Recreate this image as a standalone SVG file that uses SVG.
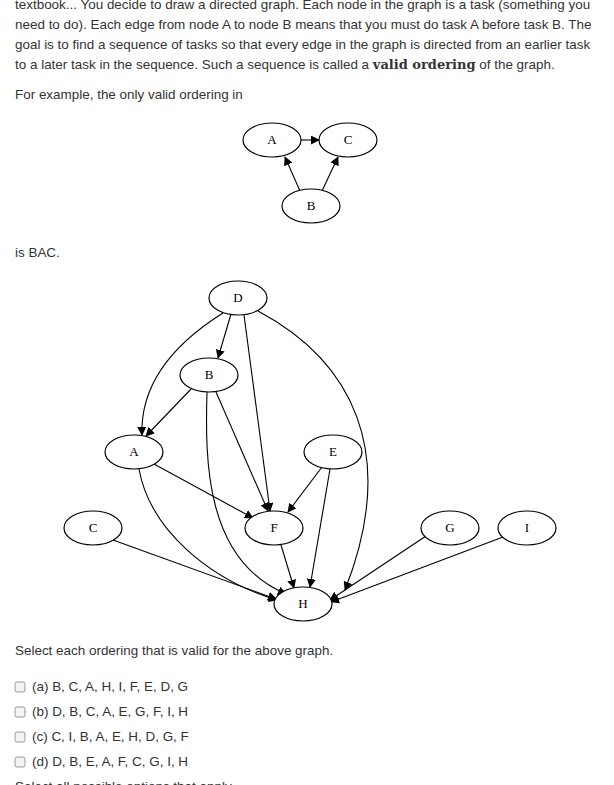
<svg xmlns="http://www.w3.org/2000/svg" width="614" height="785" viewBox="0 0 614 785">
<style>
.t{font-family:"Liberation Sans",Arial,sans-serif;font-size:13.45px;fill:#333}
.n ellipse{fill:#fff;stroke:#000;stroke-width:1.2}
.n text{font-family:"Liberation Serif","Times New Roman",serif;font-size:13px;text-anchor:middle;fill:#000}
.e path{fill:none;stroke:#000;stroke-width:1.1;marker-end:url(#ar)}
.cb{fill:#f4f4f4;stroke:#999}
</style>
<defs><marker id="ar" viewBox="0 0 10 10" refX="9" refY="5" markerWidth="9" markerHeight="9" markerUnits="userSpaceOnUse" orient="auto"><path d="M0,0L10,5L0,10z" fill="#000"/></marker></defs>
<rect width="614" height="785" fill="#fff"/>
<text class="t" x="15" y="9">textbook... You decide to draw a directed graph. Each node in the graph is a task (something you</text>
<text class="t" x="15" y="29">need to do). Each edge from node A to node B means that you must do task A before task B. The</text>
<text class="t" x="15" y="49">goal is to find a sequence of tasks so that every edge in the graph is directed from an earlier task</text>
<text class="t" x="15" y="69">to a later task in the sequence. Such a sequence is called a <tspan font-family="'DejaVu Serif',serif" font-weight="bold" font-size="13">valid ordering</tspan> of the graph.</text>
<text class="t" x="15" y="99">For example, the only valid ordering in</text>
<text class="t" x="15" y="257">is BAC.</text>
<g class="e" id="edges1">
<path d="M301,140L319,140"/>
<path d="M300,191L285,157"/>
<path d="M322,191L338,157"/>
</g>
<g class="n" id="n1A"><ellipse cx="272" cy="140" rx="29" ry="17"/><text x="272" y="144">A</text></g>
<g class="n" id="n1C"><ellipse cx="348" cy="140" rx="29" ry="17"/><text x="348" y="144">C</text></g>
<g class="n" id="n1B"><ellipse cx="311" cy="206" rx="29" ry="17"/><text x="311" y="210">B</text></g>
<g class="e" id="edges2">
<path d="M231,314L218,358"/>
<path d="M223,313C180,340 140,380 142,435"/>
<path d="M244,315L270,511"/>
<path d="M258,311C350,360 400,450 345,590"/>
<path d="M192,388L146,436"/>
<path d="M216,392L268,511"/>
<path d="M207,392C205,460 205,560 286,594"/>
<path d="M154,464L253,518"/>
<path d="M139,469C150,530 210,580 277,600"/>
<path d="M322,467L288,512"/>
<path d="M330,469L310,587"/>
<path d="M113,540L276,599"/>
<path d="M426,536L330,600"/>
<path d="M503,537L331,602"/>
<path d="M281,545L294,588"/>
</g>
<g class="n" id="D"><ellipse cx="238" cy="298" rx="29" ry="17"/><text x="238" y="302">D</text></g>
<g class="n" id="B"><ellipse cx="209" cy="375" rx="29" ry="17"/><text x="209" y="379">B</text></g>
<g class="n" id="A"><ellipse cx="134" cy="452" rx="29" ry="17"/><text x="134" y="456">A</text></g>
<g class="n" id="E"><ellipse cx="333" cy="452" rx="29" ry="17"/><text x="333" y="456">E</text></g>
<g class="n" id="C"><ellipse cx="93" cy="528" rx="29" ry="17"/><text x="93" y="532">C</text></g>
<g class="n" id="F"><ellipse cx="274" cy="528" rx="29" ry="17"/><text x="274" y="532">F</text></g>
<g class="n" id="G"><ellipse cx="450" cy="528" rx="29" ry="17"/><text x="450" y="532">G</text></g>
<g class="n" id="I"><ellipse cx="527" cy="528" rx="29" ry="17"/><text x="527" y="532">I</text></g>
<g class="n" id="H"><ellipse cx="303" cy="604" rx="29" ry="17"/><text x="303" y="608">H</text></g>
<text class="t" x="15" y="655">Select each ordering that is valid for the above graph.</text>
<rect class="cb" x="15" y="682" width="10" height="10" rx="2"/><text class="t" x="32" y="691">(a) B, C, A, H, I, F, E, D, G</text>
<rect class="cb" x="15" y="707" width="10" height="10" rx="2"/><text class="t" x="32" y="716">(b) D, B, C, A, E, G, F, I, H</text>
<rect class="cb" x="15" y="732" width="10" height="10" rx="2"/><text class="t" x="32" y="741">(c) C, I, B, A, E, H, D, G, F</text>
<rect class="cb" x="15" y="757" width="10" height="10" rx="2"/><text class="t" x="32" y="766">(d) D, B, E, A, F, C, G, I, H</text>
<text class="t" x="15" y="791" font-size="12" fill="#777">Select all possible options that apply.</text>
</svg>
